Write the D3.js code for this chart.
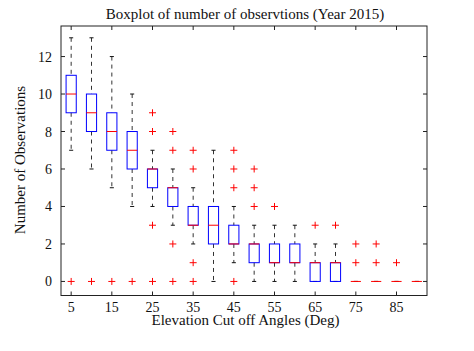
<!DOCTYPE html>
<html><head><meta charset="utf-8">
<script src="https://cdn.jsdelivr.net/npm/d3@7"></script>
<style>body{margin:0;background:#fff}svg{display:block}text{font-family:"Liberation Serif","Times New Roman",serif;fill:#111}</style>
</head><body>
<svg id="c" width="474" height="351"></svg>
<script>
const angles =   [5,10,15,20,25,30,35,40,45,50,55,60,65,70,75,80,85,90];
const q1 =       [9, 8, 7, 6, 5, 4, 3, 2, 2, 1, 1, 1, 0, 0, 0, 0, 0, 0];
const medians =  [10,9, 8, 7, 6, 5, 3, 3, 2, 2, 1, 1, 1, 1, 0, 0, 0, 0];
const q3 =       [11,10,9, 8, 6, 5, 4, 4, 3, 2, 2, 2, 1, 1, 0, 0, 0, 0];
const whiskLo =  [7, 6, 5, 4, 4, 3, 2, 0, 1, 0, 0, 0, 0, 0, 0, 0, 0, 0];
const whiskHi =  [13,13,12,10,7, 6, 5, 7, 4, 3, 3, 3, 2, 2, 0, 0, 0, 0];
const outliers = [[0],[0],[0],[0],[9,8,3,0],[8,7,2,0],[7,6,1,0],[],[7,6,5,0],[6,5,4],[4],[],[3],[3],[2,1],[2,1],[1],[]];
const xTickLabels = [5,15,25,35,45,55,65,75,85];
const yTicks = [0,2,4,6,8,10,12];

const svg = d3.select("#c");
const L=61,R=427,T=26,B=295.5;
const x = d3.scaleLinear().domain([0.5,18.5]).range([L,R]);
const y = d3.scaleLinear().domain([-0.75,13.63]).range([B,T]);
const idx = a => angles.indexOf(a)+1;
const bw = x(1.25)-x(1);   // half box width
const cw = x(1.1)-x(1);    // half cap width

const g = svg.append("g");
angles.forEach((a,i)=>{
  const cx = x(i+1);
  if (whiskHi[i] > q3[i]) g.append("line").attr("x1",cx).attr("x2",cx).attr("y1",y(whiskHi[i])).attr("y2",y(q3[i]))
      .attr("stroke","#333").attr("stroke-dasharray","4,4").attr("stroke-width",1);
  if (whiskLo[i] < q1[i]) g.append("line").attr("x1",cx).attr("x2",cx).attr("y1",y(q1[i])).attr("y2",y(whiskLo[i]))
      .attr("stroke","#333").attr("stroke-dasharray","4,4").attr("stroke-width",1);
  [whiskHi[i], whiskLo[i]].forEach(w=>{
    g.append("line").attr("x1",cx-cw).attr("x2",cx+cw).attr("y1",y(w)).attr("y2",y(w)).attr("stroke","#111").attr("stroke-width",1);
  });
  g.append("rect").attr("x",cx-bw).attr("width",2*bw).attr("y",y(q3[i])).attr("height",Math.max(0,y(q1[i])-y(q3[i])))
    .attr("fill","none").attr("stroke","#0000ff").attr("stroke-width",1);
  g.append("line").attr("x1",cx-bw).attr("x2",cx+bw).attr("y1",y(medians[i])).attr("y2",y(medians[i]))
    .attr("stroke","#ff0000").attr("stroke-width",1);
  outliers[i].forEach(o=>{
    const oy=y(o), s=3.5;
    g.append("path").attr("d",`M${cx-s},${oy}H${cx+s}M${cx},${oy-s}V${oy+s}`).attr("stroke","#ff0000").attr("stroke-width",1).attr("fill","none");
  });
});

svg.append("rect").attr("x",L).attr("y",T).attr("width",R-L).attr("height",B-T).attr("fill","none").attr("stroke","#222").attr("stroke-width",1);
const tl=4;
xTickLabels.forEach(v=>{
  const px = x(idx(v));
  svg.append("line").attr("x1",px).attr("x2",px).attr("y1",B).attr("y2",B-tl).attr("stroke","#222");
  svg.append("line").attr("x1",px).attr("x2",px).attr("y1",T).attr("y2",T+tl).attr("stroke","#222");
  svg.append("text").attr("x",px).attr("y",311.5).attr("text-anchor","middle").attr("font-size",14).text(v);
});
yTicks.forEach(v=>{
  const py = y(v);
  svg.append("line").attr("x1",L).attr("x2",L+tl).attr("y1",py).attr("y2",py).attr("stroke","#222");
  svg.append("line").attr("x1",R).attr("x2",R-tl).attr("y1",py).attr("y2",py).attr("stroke","#222");
  svg.append("text").attr("x",52).attr("y",py+5).attr("text-anchor","end").attr("font-size",14).text(v);
});
svg.append("text").attr("x",245).attr("y",19).attr("text-anchor","middle").attr("font-size",15).text("Boxplot of number of observtions (Year 2015)");
svg.append("text").attr("x",245.5).attr("y",325).attr("text-anchor","middle").attr("font-size",15).text("Elevation Cut off Angles (Deg)");
svg.append("text").attr("transform","translate(25,160) rotate(-90)").attr("text-anchor","middle").attr("font-size",15).text("Number of Observations");
</script>
</body></html>
